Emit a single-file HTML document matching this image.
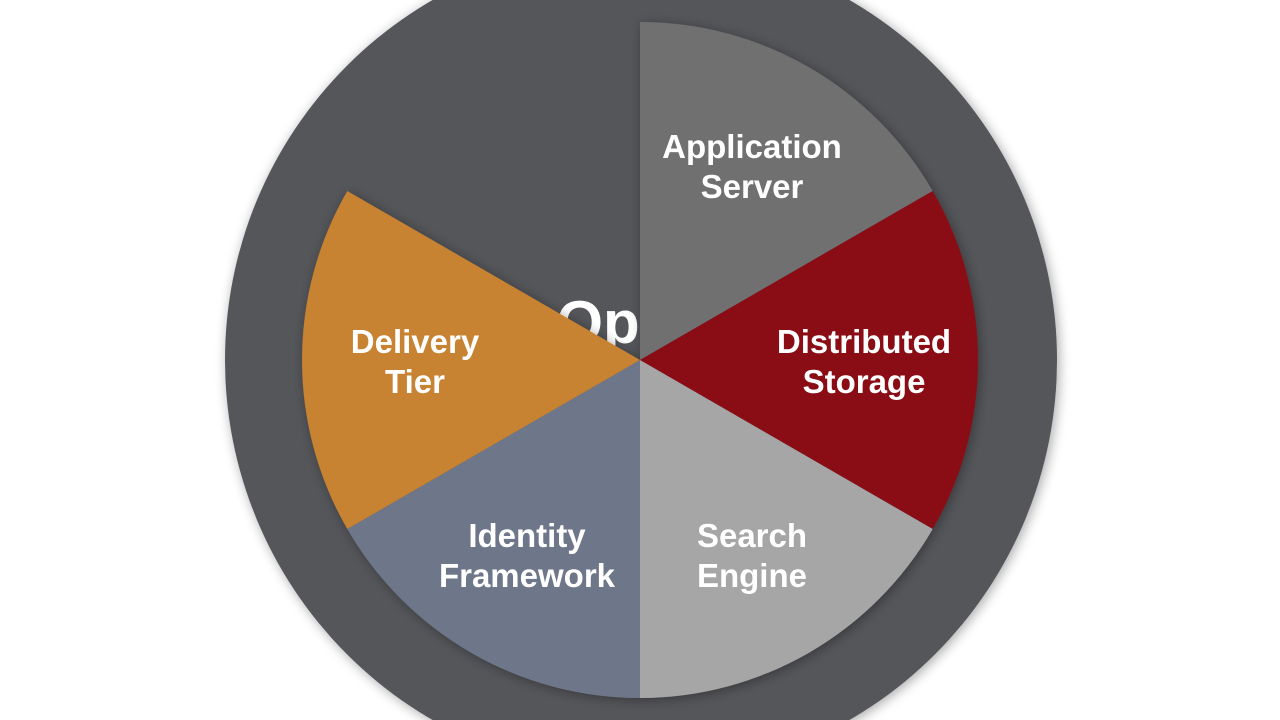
<!DOCTYPE html>
<html><head><meta charset="utf-8"><style>
html,body{margin:0;padding:0;background:#fff;width:1280px;height:720px;overflow:hidden}
svg{display:block}
text{font-family:"Liberation Sans",sans-serif;font-weight:bold;fill:#fff;text-anchor:middle}
</style></head><body>
<svg width="1280" height="720" viewBox="0 0 1280 720">
<defs>
<filter id="sh" x="-20%" y="-20%" width="140%" height="140%"><feGaussianBlur in="SourceAlpha" stdDeviation="6"/><feOffset dx="2" dy="2"/><feComponentTransfer><feFuncA type="linear" slope="0.35"/></feComponentTransfer><feMerge><feMergeNode/><feMergeNode in="SourceGraphic"/></feMerge></filter>
</defs>
<circle cx="641" cy="360" r="416" fill="#55565a" filter="url(#sh)"/>
<text x="598" y="343" font-size="60">Op</text>
<g filter="url(#sh)">
<path d="M640,360 L640,22 A338,338 0 0 1 932.7,191 Z" fill="#6f6f6f"/>
<path d="M640,360 L932.7,191 A338,338 0 0 1 932.7,529 Z" fill="#8a0a17"/>
<path d="M640,360 L932.7,529 A338,338 0 0 1 640,698 Z" fill="#a6a6a6"/>
<path d="M640,360 L640,698 A338,338 0 0 1 347.3,529 Z" fill="#6e7689"/>
<path d="M640,360 L347.3,529 A338,338 0 0 1 347.3,191 Z" fill="#c78232"/>
</g>
<g font-size="33">
<text x="752" y="158">Application</text><text x="752" y="198">Server</text>
<text x="864" y="353">Distributed</text><text x="864" y="393">Storage</text>
<text x="752" y="547">Search</text><text x="752" y="587">Engine</text>
<text x="527" y="547">Identity</text><text x="527" y="587">Framework</text>
<text x="415" y="353">Delivery</text><text x="415" y="393">Tier</text>
</g>
</svg>
</body></html>
